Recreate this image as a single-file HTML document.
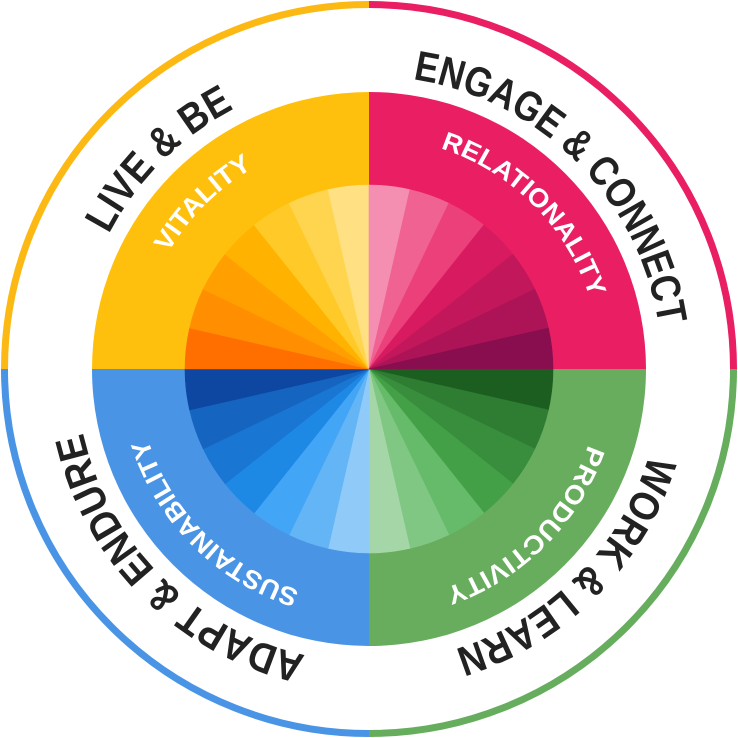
<!DOCTYPE html>
<html><head><meta charset="utf-8"><style>
html,body{margin:0;padding:0;background:#fff;}
svg{display:block}
text{font-family:"Liberation Sans",sans-serif;font-weight:bold;}
</style></head><body>
<svg width="738" height="738" viewBox="0 0 738 738" xmlns="http://www.w3.org/2000/svg">
<defs>
<path id="po" d="M662,369 A293,293 0 1 1 76,369 A293,293 0 1 1 662,369"/>
<path id="pi" d="M601,369 A232,232 0 1 1 137,369 A232,232 0 1 1 601,369"/>
</defs>
<g fill="none" stroke-width="7">
<path d="M4.5,369 A364.5,364.5 0 0 1 369,4.5" stroke="#FDB913"/>
<path d="M369,4.5 A364.5,364.5 0 0 1 733.5,369" stroke="#E91E63"/>
<path d="M733.5,369 A364.5,364.5 0 0 1 369,733.5" stroke="#66AD5E"/>
<path d="M369,733.5 A364.5,364.5 0 0 1 4.5,369" stroke="#4A94E6"/>
</g>
<path d="M369,369 L92,369 A277,277 0 0 1 369,92 Z" fill="#FFC00D"/>
<path d="M369,369 L369,92 A277,277 0 0 1 646,369 Z" fill="#E91E63"/>
<path d="M369,369 L646,369 A277,277 0 0 1 369,646 Z" fill="#68AD5E"/>
<path d="M369,369 L369,646 A277,277 0 0 1 92,369 Z" fill="#4A94E6"/>
<g stroke-width="0.6">
<path d="M369 369L553 369A184 184 0 0 1 548.39 409.94Z" fill="#1B5E20" stroke="#1B5E20"/>
<path d="M369 369L548.39 409.94A184 184 0 0 1 534.78 448.83Z" fill="#2E7D32" stroke="#2E7D32"/>
<path d="M369 369L534.78 448.83A184 184 0 0 1 512.86 483.72Z" fill="#388E3C" stroke="#388E3C"/>
<path d="M369 369L512.86 483.72A184 184 0 0 1 483.72 512.86Z" fill="#43A047" stroke="#43A047"/>
<path d="M369 369L483.72 512.86A184 184 0 0 1 448.83 534.78Z" fill="#66BB6A" stroke="#66BB6A"/>
<path d="M369 369L448.83 534.78A184 184 0 0 1 409.94 548.39Z" fill="#81C784" stroke="#81C784"/>
<path d="M369 369L409.94 548.39A184 184 0 0 1 369 553Z" fill="#A5D6A7" stroke="#A5D6A7"/>

<path d="M369 369L369 553A184 184 0 0 1 328.06 548.39Z" fill="#90CAF9" stroke="#90CAF9"/>
<path d="M369 369L328.06 548.39A184 184 0 0 1 289.17 534.78Z" fill="#64B5F6" stroke="#64B5F6"/>
<path d="M369 369L289.17 534.78A184 184 0 0 1 254.28 512.86Z" fill="#42A5F5" stroke="#42A5F5"/>
<path d="M369 369L254.28 512.86A184 184 0 0 1 225.14 483.72Z" fill="#1E88E5" stroke="#1E88E5"/>
<path d="M369 369L225.14 483.72A184 184 0 0 1 203.22 448.83Z" fill="#1976D2" stroke="#1976D2"/>
<path d="M369 369L203.22 448.83A184 184 0 0 1 189.61 409.94Z" fill="#1565C0" stroke="#1565C0"/>
<path d="M369 369L189.61 409.94A184 184 0 0 1 185 369Z" fill="#0D47A1" stroke="#0D47A1"/>

<path d="M369 369L185 369A184 184 0 0 1 189.61 328.06Z" fill="#FF6F00" stroke="#FF6F00"/>
<path d="M369 369L189.61 328.06A184 184 0 0 1 203.22 289.17Z" fill="#FF8F00" stroke="#FF8F00"/>
<path d="M369 369L203.22 289.17A184 184 0 0 1 225.14 254.28Z" fill="#FFA000" stroke="#FFA000"/>
<path d="M369 369L225.14 254.28A184 184 0 0 1 254.28 225.14Z" fill="#FFB300" stroke="#FFB300"/>
<path d="M369 369L254.28 225.14A184 184 0 0 1 289.17 203.22Z" fill="#FFCA28" stroke="#FFCA28"/>
<path d="M369 369L289.17 203.22A184 184 0 0 1 328.06 189.61Z" fill="#FFD54F" stroke="#FFD54F"/>
<path d="M369 369L328.06 189.61A184 184 0 0 1 369 185Z" fill="#FFE082" stroke="#FFE082"/>

<path d="M369 369L369 185A184 184 0 0 1 409.94 189.61Z" fill="#F48FB1" stroke="#F48FB1"/>
<path d="M369 369L409.94 189.61A184 184 0 0 1 448.83 203.22Z" fill="#F06292" stroke="#F06292"/>
<path d="M369 369L448.83 203.22A184 184 0 0 1 483.72 225.14Z" fill="#EC407A" stroke="#EC407A"/>
<path d="M369 369L483.72 225.14A184 184 0 0 1 512.86 254.28Z" fill="#D81B60" stroke="#D81B60"/>
<path d="M369 369L512.86 254.28A184 184 0 0 1 534.78 289.17Z" fill="#C2185B" stroke="#C2185B"/>
<path d="M369 369L534.78 289.17A184 184 0 0 1 548.39 328.06Z" fill="#AD1457" stroke="#AD1457"/>
<path d="M369 369L548.39 328.06A184 184 0 0 1 553 369Z" fill="#880E4F" stroke="#880E4F"/>
</g>
<g font-size="42" fill="#222">
<text text-anchor="middle"><textPath href="#po" startOffset="62.5%" textLength="180" lengthAdjust="spacingAndGlyphs">LIVE &amp; BE</textPath></text>
<text text-anchor="middle"><textPath href="#po" startOffset="87.5%" textLength="372" lengthAdjust="spacingAndGlyphs">ENGAGE &amp; CONNECT</textPath></text>
<text text-anchor="middle"><textPath href="#po" startOffset="12.5%" textLength="286" lengthAdjust="spacingAndGlyphs">WORK &amp; LEARN</textPath></text>
<text text-anchor="middle"><textPath href="#po" startOffset="37.5%" textLength="332" lengthAdjust="spacingAndGlyphs">ADAPT &amp; ENDURE</textPath></text>
</g>
<g font-size="26" fill="#fff">
<text text-anchor="middle"><textPath href="#pi" startOffset="62.5%" textLength="121" lengthAdjust="spacingAndGlyphs">VITALITY</textPath></text>
<text text-anchor="middle"><textPath href="#pi" startOffset="87.5%" textLength="219" lengthAdjust="spacingAndGlyphs">RELATIONALITY</textPath></text>
<text text-anchor="middle"><textPath href="#pi" startOffset="12.5%" textLength="210" lengthAdjust="spacingAndGlyphs">PRODUCTIVITY</textPath></text>
<text text-anchor="middle"><textPath href="#pi" startOffset="37.5%" textLength="223" lengthAdjust="spacingAndGlyphs">SUSTAINABILITY</textPath></text>
</g>
</svg>
</body></html>
